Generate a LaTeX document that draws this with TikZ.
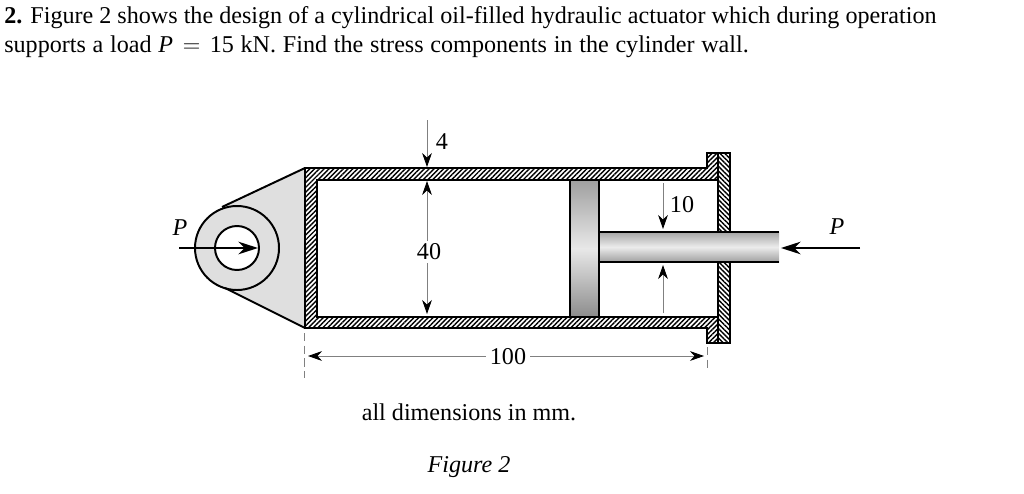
\documentclass[tikz,border=0pt]{standalone}
\usepackage{fontspec}
\setmainfont{Liberation Serif}
\usetikzlibrary{arrows.meta,patterns.meta}
\tikzset{
  wall/.style={draw,line width=1.7pt,line join=miter,pattern={Lines[angle=45,distance=2.4pt,line width=1pt]}},
  plate/.style={draw,line width=1.7pt,pattern={Lines[angle=-45,distance=2.4pt,line width=1pt]}},
  dimline/.style={gray,line width=0.6pt,{Stealth[black,length=10pt,width=7pt]}-{Stealth[black,length=10pt,width=7pt]}},
  dimend/.style={gray,line width=0.6pt,-{Stealth[black,length=10pt,width=7pt]}},
  extline/.style={gray,line width=0.6pt,dash pattern=on 6pt off 3pt},
  load/.style={line width=1.2pt,-{Stealth[length=14pt,width=9pt]}},
  txt/.style={font=\fontsize{17.15}{20}\selectfont,inner sep=0pt}
}
\begin{document}
\begin{tikzpicture}[x=0.025cm,y=-0.025cm]
    \useasboundingbox (0,0) rectangle (1024,493);
    \node[txt,anchor=west] (lineone) at (4,17.5){\textbf{2.} Figure 2 shows the design of a cylindrical oil-filled hydraulic actuator which during operation};
    \node[txt,anchor=west] (linetwo) at (4,46.5){\spaceskip=4.8pt supports a load \textit{P}\hspace{2pt} $=$ \hspace{2pt}15 kN. Find the stress components in the cylinder wall.};
    % eye at the left end
    \fill[gray!25] (222,207)--(305,168)--(305,328)--(225,288)--cycle;
    \draw[fill=gray!25,line width=1.4pt] (237,248) circle (42);
    \draw[line width=1.4pt] (222,207)--(305,168) (225,288)--(305,328);
    \draw[fill=white,line width=1.4pt] (237,248) circle (22);
    % cylinder
    \draw[wall] (305,168)--(707,168)--(707,153)--(718,153)--(718,180)--(317,180)--(317,317)--(718,317)--(718,343)--(707,343)--(707,328)--(305,328)--cycle;
    \draw[plate] (718,153) rectangle (730,232);
    \draw[plate] (718,262) rectangle (730,343);
    % piston and rod
    \draw[line width=1.4pt,top color=gray!75,bottom color=gray!90,middle color=gray!18] (570,180) rectangle (599,317);
    \path[top color=gray!70,bottom color=gray!75,middle color=gray!15] (600,232) rectangle (779,262);
    \draw[line width=1.4pt] (599,232)--(779,232) (599,262)--(779,262);
    % dimensions
    \coordinate (fourtop) at (427,120);
    \coordinate (fourend) at (427,167);
    \coordinate (fortytop) at (427,181);
    \coordinate (fortyend) at (427,314);
    \coordinate (tentop) at (663,183);
    \coordinate (tenend) at (663,229);
    \coordinate (tenlow) at (663,313);
    \coordinate (tenlowend) at (663,265);
    \coordinate (lenleft) at (308,356);
    \coordinate (lenright) at (704,356);
    \draw[dimend] (fourtop)--(fourend);
    \node[txt] (four) at (442,142){4};
    \draw[dimline] (fortytop)--(fortyend);
    \node[txt,fill=white,inner ysep=2pt] (forty) at (429,252){40};
    \draw[dimend] (tentop)--(tenend);
    \draw[dimend] (tenlow)--(tenlowend);
    \node[txt] (ten) at (682,205){10};
    \draw[dimline] (lenleft)--(lenright);
    \node[txt,fill=white,inner xsep=3pt] (len) at (508,357){100};
    \coordinate (extaa) at (304,333);
    \coordinate (extab) at (304,378);
    \coordinate (extba) at (707,347);
    \coordinate (extbb) at (707,369);
    \draw[extline] (extaa)--(extab);
    \draw[extline] (extba)--(extbb);
    % loads
    \coordinate (loadla) at (179,248);
    \coordinate (loadlb) at (258,248);
    \coordinate (loadra) at (860,248);
    \coordinate (loadrb) at (781,248);
    \draw[load] (loadla)--(loadlb);
    \draw[load] (loadra)--(loadrb);
    \node[txt] (pleft) at (180,228){\textit{P}};
    \node[txt] (pright) at (837,227){\textit{P}};
    \node[txt] (note) at (469,412){all dimensions in mm.};
    \node[txt] (caption) at (469,467){\textit{Figure 2}};
\end{tikzpicture}
\end{document}
